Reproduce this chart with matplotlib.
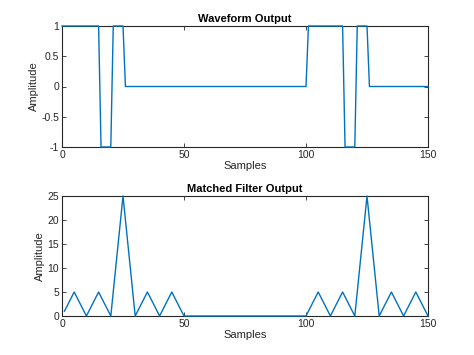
import matplotlib
matplotlib.use("Agg")
import matplotlib.pyplot as plt

# Waveform keypoints (sample, amplitude)
wave_x = [0, 15, 16, 20, 21, 25, 26, 100, 101, 115, 116, 120, 121, 125, 126, 150]
wave_y = [1, 1, -1, -1, 1, 1, 0, 0, 1, 1, -1, -1, 1, 1, 0, 0]

# Matched filter output keypoints
mf_x = [1, 5, 10, 15, 20, 25, 30, 35, 40, 45, 50, 100, 105, 110, 115, 120, 125, 130, 135, 140, 145, 150]
mf_y = [1, 5, 0, 5, 0, 25, 0, 5, 0, 5, 0, 0, 5, 0, 5, 0, 25, 0, 5, 0, 5, 0]

top_yticks = [-1, -0.5, 0, 0.5, 1]
top_yticklabels = ["-1", "-0.5", "0", "0.5", "1"]
bot_yticks = [0, 5, 10, 15, 20, 25]
xticks = [0, 50, 100, 150]

plt.rcParams['font.family'] = ['Liberation Sans', 'DejaVu Sans']
W, H = 474, 355
fig = plt.figure(figsize=(W / 100, H / 100), dpi=100)
fig.patch.set_facecolor('white')

line_color = '#0072BD'
axcol = '#262626'

def style(ax):
    for s in ax.spines.values():
        s.set_color(axcol)
        s.set_linewidth(0.8)
    ax.tick_params(direction='in', top=True, right=True, length=3, width=0.6,
                   colors=axcol, labelsize=7.5, pad=2)

ax1 = fig.add_axes([62 / W, 1 - 147 / H, (428 - 62) / W, (147 - 26) / H])
ax1.plot(wave_x, wave_y, color=line_color, linewidth=1.0, clip_on=False, zorder=3)
ax1.set_xlim(0, 150)
ax1.set_ylim(-1, 1)
ax1.set_xticks(xticks)
ax1.set_yticks(top_yticks)
ax1.set_yticklabels(top_yticklabels)
ax1.set_title('Waveform Output', fontsize=8, fontweight='bold', pad=3, color='black')
ax1.set_xlabel('Samples', fontsize=8, labelpad=1, color=axcol)
ax1.set_ylabel('Amplitude', fontsize=8, labelpad=2, color=axcol)
style(ax1)

ax2 = fig.add_axes([62 / W, 1 - 316 / H, (428 - 62) / W, (316 - 196) / H])
ax2.plot(mf_x, mf_y, color=line_color, linewidth=1.0, clip_on=False, zorder=3)
ax2.set_xlim(0, 150)
ax2.set_ylim(0, 25)
ax2.set_xticks(xticks)
ax2.set_yticks(bot_yticks)
ax2.set_title('Matched Filter Output', fontsize=8, fontweight='bold', pad=3, color='black')
ax2.set_xlabel('Samples', fontsize=8, labelpad=1, color=axcol)
ax2.set_ylabel('Amplitude', fontsize=8, labelpad=2, color=axcol)
style(ax2)

fig.savefig('out.png', dpi=100, facecolor='white')
